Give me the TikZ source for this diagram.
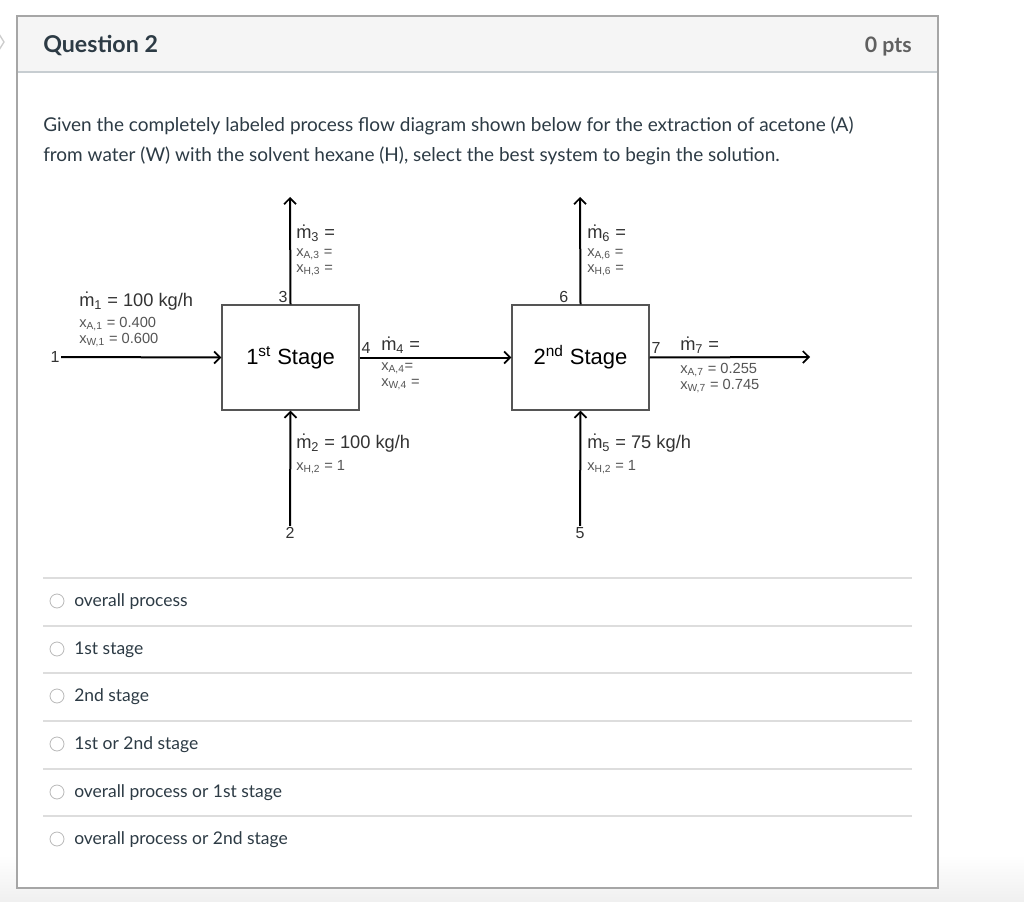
\documentclass[tikz,border=0pt]{standalone}
\usepackage{fontspec}
\setmainfont{Lato}
\newfontfamily\arialfont{Liberation Sans}
\usetikzlibrary{arrows.meta, positioning}

\definecolor{canvastext}{HTML}{2D3B45}
\definecolor{cardline}{HTML}{C7CDD1}
\definecolor{headbg}{HTML}{F5F5F5}
\definecolor{rowline}{HTML}{DDDDDD}
\definecolor{flowgray}{HTML}{333333}
\definecolor{fracgray}{HTML}{555555}

% m-dot and mass fraction labels
\newcommand{\mflow}[1]{\ensuremath{\dot{\mbox{m}}}\textsubscript{#1}}
\newcommand{\xfrac}[1]{x\textsubscript{#1}}
\newcommand{\pxs}[2]{\fontsize{#1pt}{#2pt}\selectfont}

\tikzset{
  stagebox/.style={draw=fracgray, line width=1pt, minimum width=102.75pt, minimum height=78.75pt,
    font=\arialfont\pxs{16.5}{19}, text=black},
  stream/.style={draw=black, line width=1.5pt},
  streamno/.style={font=\arialfont\pxs{12}{13}, text=flowgray, inner sep=1pt},
  flowlbl/.style={font=\arialfont\pxs{13.7}{15}, text=flowgray, anchor=west, inner sep=0pt},
  fraclbl/.style={font=\arialfont\pxs{11}{12}, text=fracgray, anchor=west, inner sep=0pt, align=left},
  radio/.style={circle, draw=gray!55, line width=0.6pt, minimum size=10.5pt, inner sep=0pt},
  choice/.style={font=\pxs{13.1}{15}, text=canvastext, anchor=base west, inner sep=0pt},
  bodyline/.style={font=\pxs{14.25}{17}, text=canvastext, anchor=base west, inner sep=0pt},
}

\begin{document}
\begin{tikzpicture}[x=0.75pt, y=-0.75pt, >={Straight Barb[length=4.5pt, width=9pt, line width=1.3pt]}]
\useasboundingbox (0,0) rectangle (1024,902);

% page background
\shade[top color=white, bottom color=gray!12] (0,855) rectangle (1024,902);
\draw[draw=gray!40, line width=1pt] (-1,34) -- (4,42) -- (-1,50);

% card
\fill[white] (17,72) rectangle (938,888);
\fill[headbg] (17,16) rectangle (938,72);
\draw[cardline, line width=0.8pt] (17,72) -- (938,72);
\draw[gray!70, line width=1.2pt] (17,16) rectangle (938,888);

\node[font=\bfseries\pxs{17.4}{20}, text=canvastext, anchor=base west, inner sep=0pt] (qtitle) at (43,53) {Question 2};
\node[font=\bfseries\pxs{16}{20}, text=gray!75!black, anchor=base east, inner sep=0pt] (qpts) at (912,53) {0 pts};

\node[bodyline] (qline1) at (43,132)
  {Given the completely labeled process flow diagram shown below for the extraction of acetone (A)};
\node[bodyline] (qline2) at (43,162)
  {from water (W) with the solvent hexane (H), select the best system to begin the solution.};

% stages
\node[stagebox] (stage1) at (290.5,357.5) {1\textsuperscript{st} Stage};
\node[stagebox] (stage2) at (580.5,357.5) {2\textsuperscript{nd} Stage};

% stream numbers
\node[streamno] (no1) at (55,357) {1};
\node[streamno] (no2) at (290,533) {2};
\node[streamno, above left=0pt and 0pt of stage1.north, xshift=-1pt] (no3) {3};
\node[streamno, anchor=south west] (no4) at (360,355) {4};
\node[streamno] (no5) at (580,533) {5};
\node[streamno, above left=0pt and 0pt of stage2.north, xshift=-8pt] (no6) {6};
\node[streamno, anchor=south west] (no7) at (650,355) {7};

\coordinate (top3) at (290,197);
\coordinate (top6) at (580,197);
\coordinate (end7) at (810,357);

% streams
\draw[stream, ->] (no1.east) -- (stage1.west);
\draw[stream, ->] (no2.north) -- (stage1.south);
\draw[stream, ->] (stage1.north) -- (top3);
\draw[stream, ->] (stage1.east) -- (stage2.west);
\draw[stream, ->] (no5.north) -- (stage2.south);
\draw[stream, ->] (stage2.north) -- (top6);
\draw[stream, ->] (stage2.east) -- (end7);

% stream data
\node[flowlbl] (m1) at (79,301) {\mflow{1} = 100 kg/h};
\node[fraclbl] (x1) at (79,332) {\xfrac{A,1} = 0.400\\\xfrac{W,1} = 0.600};
\node[flowlbl] (m2) at (296,443) {\mflow{2} = 100 kg/h};
\node[fraclbl] (x2) at (296,467) {\xfrac{H,2} = 1};
\node[flowlbl] (m3) at (296,233) {\mflow{3} =};
\node[fraclbl] (x3) at (296,262) {\xfrac{A,3} =\\\xfrac{H,3} =};
\node[flowlbl] (m4) at (381,345) {\mflow{4} =};
\node[fraclbl] (x4) at (381,376) {\xfrac{A,4}=\\\xfrac{W,4} =};
\node[flowlbl] (m5) at (587,443) {\mflow{5} = 75 kg/h};
\node[fraclbl] (x5) at (587,467) {\xfrac{H,2} = 1};
\node[flowlbl] (m6) at (587,233) {\mflow{6} =};
\node[fraclbl] (x6) at (587,262) {\xfrac{A,6} =\\\xfrac{H,6} =};
\node[flowlbl] (m7) at (680,345) {\mflow{7} =};
\node[fraclbl] (x7) at (680,378) {\xfrac{A,7} = 0.255\\\xfrac{W,7} = 0.745};

% answer choices
\foreach \yy/\ans [count=\i] in {601/overall process, 649/1st stage, 696/2nd stage,
    744/1st or 2nd stage, 792/overall process or 1st stage, 839/overall process or 2nd stage} {
  \draw[rowline, line width=0.8pt] (43,\yy-23) -- (912,\yy-23);
  \node[radio] (radio\i) at (57,\yy) {};
  \node[choice] (ans\i) at (74,\yy+5) {\ans};
}
\end{tikzpicture}
\end{document}
